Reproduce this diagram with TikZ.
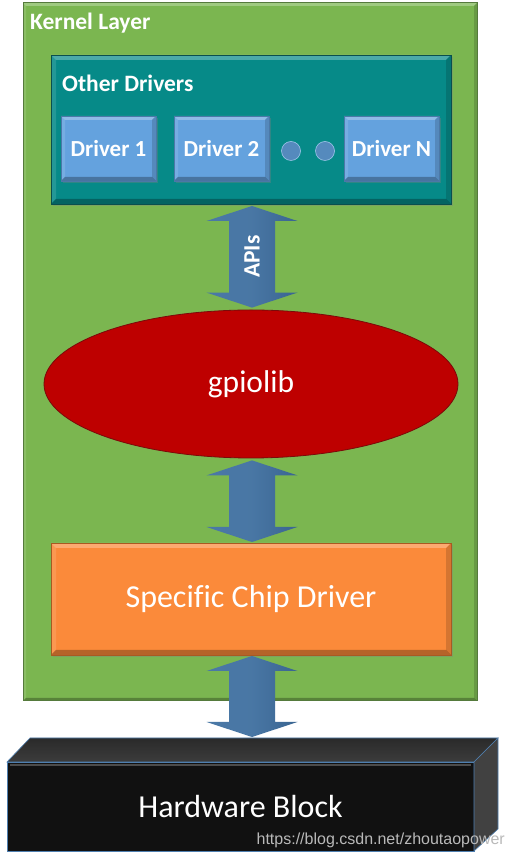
\documentclass[tikz,border=0pt]{standalone}
\usepackage{fontspec}
\setmainfont{Carlito}[Ligatures={TeX,NoCommon}]
\newfontfamily\wmfont{Liberation Sans}
\usetikzlibrary{shapes.geometric,calc,shadows}
\definecolor{kgreen}{HTML}{7BB650}
\definecolor{kgreenline}{HTML}{557A3C}
\definecolor{teal2}{HTML}{068A88}
\definecolor{tealline}{HTML}{0A4F4E}
\definecolor{drvblue}{HTML}{64A2DE}
\definecolor{drvline}{HTML}{4B78A8}
\definecolor{arrowblue}{HTML}{3A6591}
\definecolor{arrowlight}{HTML}{4A78A6}
\definecolor{gpred}{HTML}{BE0000}
\definecolor{gpline}{HTML}{7A0A0A}
\definecolor{chiporange}{HTML}{FB8A3A}
\definecolor{chipline}{HTML}{A85A22}
\definecolor{hwblack}{HTML}{111111}
\definecolor{hwtop}{HTML}{3C3C3C}
\definecolor{hwedge}{HTML}{4F7FB0}
\tikzset{
  bevel/.style={path picture={
    \fill[white,opacity=.28] (path picture bounding box.north west) -- (path picture bounding box.north east)
      -- ([shift={(-#1pt,-#1pt)}]path picture bounding box.north east) -- ([shift={(#1pt,-#1pt)}]path picture bounding box.north west) -- cycle;
    \fill[black,opacity=.28] (path picture bounding box.south west) -- (path picture bounding box.south east)
      -- ([shift={(-#1pt,#1pt)}]path picture bounding box.south east) -- ([shift={(#1pt,#1pt)}]path picture bounding box.south west) -- cycle;
    \fill[black,opacity=.15] (path picture bounding box.north east) -- (path picture bounding box.south east)
      -- ([shift={(-#1pt,#1pt)}]path picture bounding box.south east) -- ([shift={(-#1pt,-#1pt)}]path picture bounding box.north east) -- cycle;
    \fill[white,opacity=.12] (path picture bounding box.north west) -- (path picture bounding box.south west)
      -- ([shift={(#1pt,#1pt)}]path picture bounding box.south west) -- ([shift={(#1pt,-#1pt)}]path picture bounding box.north west) -- cycle;
  }},
  box/.style={rectangle, inner sep=0pt, outer sep=0pt},
  kbox/.style={box, fill=kgreen, draw=kgreenline, line width=1pt, bevel=3},
  tbox/.style={box, fill=teal2, draw=tealline, line width=0.8pt, bevel=5, drop shadow={shadow xshift=2pt, shadow yshift=-2pt, opacity=.35}},
  dbox/.style={box, fill=drvblue, draw=drvline, line width=0.8pt, bevel=4, text=white,
     font=\bfseries\fontsize{23}{23}\selectfont, minimum width=95pt, minimum height=65pt,
     drop shadow={shadow xshift=2pt, shadow yshift=-2pt, opacity=.35}},
  dotc/.style={circle, fill=drvblue!85!black, draw=drvblue!60!white, line width=0.6pt, minimum size=19pt, inner sep=0pt},
  obox/.style={box, fill=chiporange, draw=chipline, line width=0.8pt, bevel=5, text=white,
     font=\fontsize{32}{32}\selectfont, drop shadow={shadow xshift=2pt, shadow yshift=-2pt, opacity=.35}},
  lbl/.style={text=white, font=\bfseries\fontsize{23.5}{23.5}\selectfont, inner sep=0pt},
}
\newcommand{\dblarrow}[2]{%
  \shade[left color=arrowlight, right color=arrowblue, middle color=arrowlight!92!arrowblue]
    let \p1=(#1), \p2=(#2) in
    (\x1,\y1) -- (\x1+45.5pt,\y1-15pt) -- (\x1+23pt,\y1-15pt) -- (\x1+23pt,\y2+15pt)
    -- (\x1+45.5pt,\y2+15pt) -- (\x1,\y2) -- (\x1-45.5pt,\y2+15pt) -- (\x1-23pt,\y2+15pt)
    -- (\x1-23pt,\y1-15pt) -- (\x1-45.5pt,\y1-15pt) -- cycle;}
\begin{document}
\begin{tikzpicture}[x=1pt,y=1pt]
\useasboundingbox (0,0) rectangle (515,859);
\fill[white] (0,0) rectangle (515,859);
% kernel layer
\node[kbox, minimum width=454pt, minimum height=698pt] (kernel) at (250,507) {};
\node[lbl, anchor=base west] (klabel) at (30,829) {Kernel Layer};
% other drivers
\node[tbox, minimum width=400pt, minimum height=149pt] (other) at (251,729.5) {};
\node[lbl, anchor=base west] (olabel) at (62,767) {Other Drivers};
\node[dbox] (d1) at (108.5,710.5) {Driver 1};
\node[dbox] (d2) at (221.5,710.5) {Driver 2};
\node[dbox] (dn) at (391.5,710.5) {Driver N};
\node[dotc] (dot1) at (291,708) {};
\node[dotc] (dot2) at (325,708) {};
% gpiolib
\node[ellipse, fill=gpred, draw=gpline, line width=0.8pt, minimum width=414pt, minimum height=148pt, inner sep=0pt,
      text=white, font=\fontsize{31.5}{31.5}\selectfont] (gpio) at (251,475) {gpiolib};
% chip driver
\node[obox, minimum width=400pt, minimum height=112pt] (chip) at (251,260) {Specific Chip Driver};
% hardware block
\node[box, fill=hwblack, draw=hwedge, line width=0.6pt, minimum width=467pt, minimum height=89pt] (hw) at (240.5,52.5) {};
\shade[top color=hwtop!70!black, bottom color=hwtop, draw=hwedge, line width=0.6pt]
  (hw.north west) -- ($(hw.north west)+(23,24)$) -- ($(hw.north east)+(24,24)$) -- (hw.north east) -- cycle;
\fill[hwblack!80!white, draw=hwedge, line width=0.6pt]
  (hw.north east) -- ($(hw.north east)+(24,24)$) -- ($(hw.south east)+(24,22)$) -- (hw.south east) -- cycle;
\draw[white, opacity=.25, line width=1.2pt] ($(hw.north west)+(3,-3)$) -- ($(hw.north east)+(-3,-3)$);
\node[text=white, font=\fontsize{32}{32}\selectfont, inner sep=0pt] (hwlabel) at (240.5,52) {Hardware Block};
\coordinate (hwback) at ($(hw.north)+(11.5,24)$);
% arrows
\dblarrow{$(other.south)+(1,-2)$}{$(gpio.north)+(1,2)$}
\node[lbl, rotate=90] (apis) at ($(other.south)!0.5!(gpio.north)+(1,0)$) {APIs};
\dblarrow{$(gpio.south)+(1,-2)$}{$(chip.north)+(1,1)$}
\dblarrow{$(chip.south)+(1,-1)$}{$(chip.south |- hwback)+(1,1)$}
% watermark
\node[text=gray!55!white, font=\wmfont\fontsize{16}{16}\selectfont, anchor=base east, inner sep=0pt] (wm) at (505,14) {https://blog.csdn.net/zhoutaopower};
\end{tikzpicture}
\end{document}
